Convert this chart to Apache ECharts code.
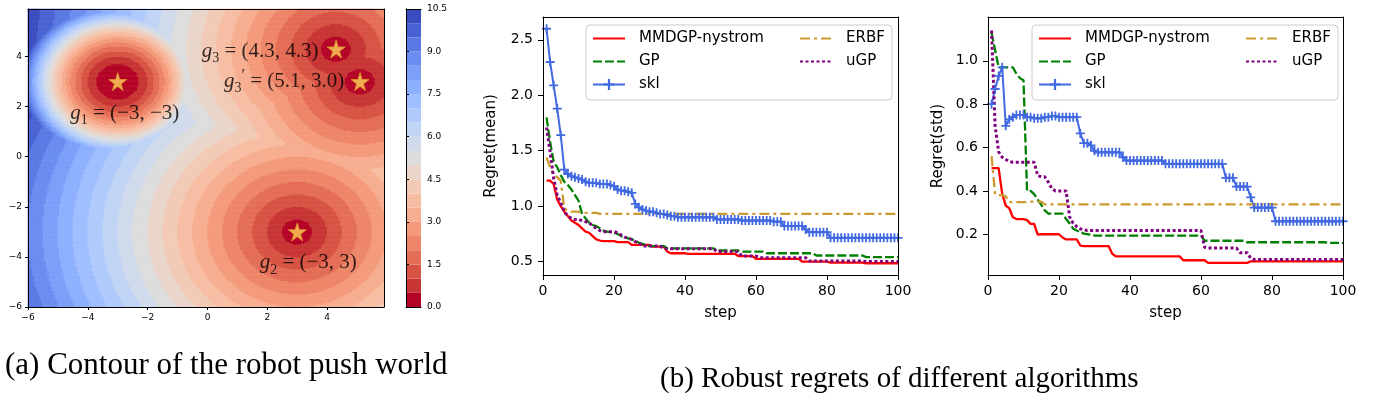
<!DOCTYPE html>
<html>
<head>
<meta charset="utf-8">
<script src="https://cdn.jsdelivr.net/npm/echarts@6/dist/echarts.min.js"></script>
<style>
html, body { margin: 0; padding: 0; background: #fff; }
#chart { width: 1376px; height: 393px; }
</style>
</head>
<body>
<div id="chart"></div>
<script>
// ---- (a) robot push world: goals and how the regret grows around each one
var goalX = [-3, 3, 4.3, 5.1];
var goalY = [3, -3, 4.3, 3.0];
var goalPow = [2, 1, 1, 1];
var goalText = [
  '{g|g}{s|1}{t| = (−3, −3)}',
  '{g|g}{s|2}{t| = (−3, 3)}',
  '{g|g}{s|3}{t| = (4.3, 4.3)}',
  '{g|g}{s|3}{p|′}{t| = (5.1, 3.0)}'
];
var levels = [0, 0.5, 1, 1.5, 2, 2.5, 3, 3.5, 4, 4.5, 5, 5.5, 6, 6.5, 7, 7.5, 8, 8.5, 9, 9.5, 10, 10.5];
var contourTicks = [-6, -4, -2, 0, 2, 4];
var colorbarTicks = [0, 1.5, 3, 4.5, 6, 7.5, 9, 10.5];

// ---- (b) robust regrets
var names = ['MMDGP-nystrom', 'GP', 'skl', 'ERBF', 'uGP'];
var stepTicks = [0, 20, 40, 60, 80, 100];
var meanTicks = [0.5, 1.0, 1.5, 2.0, 2.5];
var stdTicks = [0.2, 0.4, 0.6, 0.8, 1.0];

var mmdgpMean = [
  1.23, 1.23, 1.20, 1.06, 1.00, 0.95, 0.91, 0.87, 0.85, 0.83,
  0.80, 0.77, 0.76, 0.73, 0.70, 0.69, 0.685, 0.685, 0.685, 0.685,
  0.675, 0.675, 0.675, 0.675, 0.65, 0.65, 0.65, 0.65, 0.65, 0.65,
  0.635, 0.635, 0.635, 0.635, 0.59, 0.575, 0.575, 0.575, 0.575, 0.575,
  0.57, 0.57, 0.57, 0.57, 0.57, 0.57, 0.57, 0.57, 0.57, 0.57,
  0.57, 0.57, 0.57, 0.57, 0.55, 0.55, 0.55, 0.55, 0.55, 0.525,
  0.525, 0.525, 0.525, 0.525, 0.525, 0.525, 0.525, 0.525, 0.525, 0.525,
  0.525, 0.525, 0.50, 0.50, 0.50, 0.50, 0.50, 0.50, 0.50, 0.50,
  0.49, 0.49, 0.49, 0.49, 0.49, 0.49, 0.49, 0.49, 0.49, 0.49,
  0.485, 0.485, 0.485, 0.485, 0.485, 0.485, 0.485, 0.485, 0.485, 0.485
];
var gpMean = [
  1.80, 1.58, 1.40, 1.35, 1.28, 1.22, 1.19, 1.15, 1.10, 1.05,
  0.93, 0.89, 0.85, 0.83, 0.82, 0.80, 0.78, 0.77, 0.765, 0.76,
  0.75, 0.73, 0.72, 0.71, 0.70, 0.69, 0.67, 0.66, 0.65, 0.64,
  0.64, 0.64, 0.64, 0.64, 0.62, 0.62, 0.62, 0.62, 0.62, 0.62,
  0.62, 0.62, 0.62, 0.62, 0.62, 0.62, 0.62, 0.62, 0.60, 0.60,
  0.60, 0.60, 0.60, 0.60, 0.60, 0.59, 0.59, 0.59, 0.59, 0.59,
  0.59, 0.59, 0.575, 0.575, 0.575, 0.575, 0.575, 0.575, 0.575, 0.575,
  0.575, 0.575, 0.575, 0.575, 0.575, 0.575, 0.555, 0.555, 0.555, 0.555,
  0.555, 0.555, 0.555, 0.555, 0.555, 0.555, 0.555, 0.555, 0.555, 0.555,
  0.54, 0.54, 0.54, 0.54, 0.54, 0.54, 0.54, 0.54, 0.54, 0.54
];
var sklMean = [
  2.60, 2.30, 2.09, 1.88, 1.64, 1.33, 1.29, 1.27, 1.26, 1.25,
  1.24, 1.22, 1.21, 1.21, 1.21, 1.20, 1.20, 1.20, 1.19, 1.18,
  1.15, 1.14, 1.14, 1.13, 1.12, 1.02, 0.99, 0.97, 0.96, 0.95,
  0.95, 0.94, 0.93, 0.93, 0.92, 0.91, 0.91, 0.90, 0.90, 0.90,
  0.90, 0.90, 0.90, 0.90, 0.90, 0.90, 0.90, 0.90, 0.88, 0.88,
  0.88, 0.88, 0.88, 0.88, 0.88, 0.87, 0.87, 0.87, 0.87, 0.87,
  0.87, 0.87, 0.87, 0.87, 0.86, 0.86, 0.86, 0.82, 0.82, 0.82,
  0.82, 0.82, 0.82, 0.79, 0.765, 0.765, 0.765, 0.765, 0.765, 0.765,
  0.714, 0.714, 0.714, 0.714, 0.714, 0.714, 0.714, 0.714, 0.714, 0.714,
  0.714, 0.714, 0.714, 0.714, 0.714, 0.714, 0.714, 0.714, 0.714, 0.714
];
var erbfMean = [
  1.44, 1.35, 1.29, 1.26, 1.23, 0.98, 0.96, 0.95, 0.95, 0.95,
  0.94, 0.94, 0.94, 0.94, 0.94, 0.93, 0.93, 0.93, 0.93, 0.93,
  0.93, 0.93, 0.93, 0.93, 0.93, 0.93, 0.93, 0.93, 0.93, 0.93,
  0.93, 0.93, 0.93, 0.93, 0.93, 0.93, 0.93, 0.93, 0.93, 0.93,
  0.93, 0.93, 0.93, 0.93, 0.93, 0.93, 0.93, 0.93, 0.93, 0.93,
  0.93, 0.93, 0.93, 0.93, 0.93, 0.93, 0.93, 0.93, 0.93, 0.93,
  0.93, 0.93, 0.93, 0.93, 0.93, 0.93, 0.93, 0.93, 0.93, 0.93,
  0.93, 0.93, 0.93, 0.93, 0.93, 0.93, 0.93, 0.93, 0.93, 0.93,
  0.93, 0.93, 0.93, 0.93, 0.93, 0.93, 0.93, 0.93, 0.93, 0.93,
  0.93, 0.93, 0.93, 0.93, 0.93, 0.93, 0.93, 0.93, 0.93, 0.93
];
var ugpMean = [
  1.71, 1.49, 1.25, 1.10, 1.03, 0.95, 0.91, 0.89, 0.88, 0.88,
  0.87, 0.86, 0.85, 0.82, 0.80, 0.78, 0.77, 0.77, 0.77, 0.77,
  0.76, 0.74, 0.72, 0.71, 0.70, 0.68, 0.67, 0.64, 0.64, 0.64,
  0.64, 0.64, 0.64, 0.615, 0.615, 0.615, 0.615, 0.615, 0.615, 0.615,
  0.615, 0.615, 0.615, 0.615, 0.615, 0.615, 0.615, 0.615, 0.59, 0.59,
  0.59, 0.59, 0.59, 0.59, 0.59, 0.55, 0.55, 0.55, 0.55, 0.55,
  0.535, 0.535, 0.535, 0.535, 0.535, 0.535, 0.535, 0.535, 0.535, 0.535,
  0.535, 0.535, 0.535, 0.535, 0.505, 0.505, 0.505, 0.505, 0.505, 0.505,
  0.505, 0.505, 0.505, 0.505, 0.505, 0.505, 0.505, 0.505, 0.505, 0.505,
  0.50, 0.50, 0.50, 0.50, 0.50, 0.50, 0.50, 0.50, 0.50, 0.50
];

var mmdgpStd = [
  0.505, 0.505, 0.505, 0.386, 0.332, 0.32, 0.278, 0.27, 0.27, 0.27,
  0.265, 0.248, 0.248, 0.198, 0.20, 0.20, 0.20, 0.20, 0.20, 0.20,
  0.185, 0.176, 0.176, 0.176, 0.176, 0.148, 0.145, 0.145, 0.145, 0.145,
  0.145, 0.145, 0.145, 0.145, 0.11, 0.098, 0.098, 0.098, 0.098, 0.098,
  0.098, 0.098, 0.098, 0.098, 0.098, 0.098, 0.098, 0.098, 0.098, 0.098,
  0.098, 0.098, 0.098, 0.098, 0.08, 0.08, 0.08, 0.08, 0.08, 0.08,
  0.08, 0.068, 0.068, 0.068, 0.068, 0.068, 0.068, 0.068, 0.068, 0.068,
  0.068, 0.068, 0.068, 0.075, 0.075, 0.075, 0.075, 0.075, 0.075, 0.075,
  0.075, 0.075, 0.075, 0.075, 0.075, 0.075, 0.075, 0.075, 0.075, 0.075,
  0.075, 0.075, 0.075, 0.075, 0.075, 0.075, 0.075, 0.075, 0.075, 0.075
];
var gpStd = [
  1.13, 1.05, 0.97, 0.97, 0.97, 0.97, 0.97, 0.94, 0.92, 0.91,
  0.40, 0.40, 0.385, 0.36, 0.335, 0.31, 0.295, 0.295, 0.295, 0.295,
  0.295, 0.27, 0.25, 0.225, 0.217, 0.21, 0.203, 0.20, 0.198, 0.194,
  0.194, 0.194, 0.194, 0.194, 0.194, 0.194, 0.194, 0.194, 0.194, 0.194,
  0.194, 0.194, 0.194, 0.194, 0.194, 0.194, 0.194, 0.194, 0.194, 0.194,
  0.194, 0.194, 0.194, 0.194, 0.194, 0.194, 0.194, 0.194, 0.194, 0.194,
  0.17, 0.17, 0.17, 0.17, 0.17, 0.17, 0.17, 0.17, 0.17, 0.17,
  0.17, 0.17, 0.163, 0.163, 0.163, 0.163, 0.163, 0.163, 0.163, 0.163,
  0.163, 0.163, 0.163, 0.163, 0.163, 0.163, 0.163, 0.163, 0.163, 0.163,
  0.163, 0.163, 0.163, 0.163, 0.163, 0.16, 0.16, 0.16, 0.16, 0.16
];
var sklStd = [
  0.80, 0.87, 0.93, 0.97, 0.70, 0.73, 0.74, 0.75, 0.75, 0.75,
  0.74, 0.74, 0.735, 0.735, 0.735, 0.74, 0.74, 0.745, 0.745, 0.74,
  0.74, 0.74, 0.74, 0.74, 0.74, 0.665, 0.62, 0.62, 0.61, 0.585,
  0.578, 0.578, 0.578, 0.578, 0.578, 0.578, 0.578, 0.555, 0.54, 0.54,
  0.54, 0.54, 0.54, 0.54, 0.54, 0.54, 0.54, 0.54, 0.54, 0.525,
  0.525, 0.525, 0.525, 0.525, 0.525, 0.525, 0.525, 0.525, 0.525, 0.525,
  0.525, 0.525, 0.525, 0.525, 0.525, 0.525, 0.46, 0.46, 0.46, 0.42,
  0.42, 0.42, 0.42, 0.37, 0.323, 0.323, 0.323, 0.323, 0.323, 0.323,
  0.26, 0.26, 0.26, 0.26, 0.26, 0.26, 0.26, 0.26, 0.26, 0.26,
  0.26, 0.26, 0.26, 0.26, 0.26, 0.26, 0.26, 0.26, 0.26, 0.26
];
var erbfStd = [
  0.56, 0.385, 0.38, 0.38, 0.375, 0.348, 0.348, 0.348, 0.348, 0.348,
  0.348, 0.35, 0.35, 0.35, 0.35, 0.338, 0.338, 0.338, 0.338, 0.338,
  0.338, 0.338, 0.338, 0.338, 0.338, 0.338, 0.338, 0.338, 0.338, 0.338,
  0.338, 0.338, 0.338, 0.338, 0.338, 0.338, 0.338, 0.338, 0.338, 0.338,
  0.338, 0.338, 0.338, 0.338, 0.338, 0.338, 0.338, 0.338, 0.338, 0.338,
  0.338, 0.338, 0.338, 0.338, 0.338, 0.338, 0.338, 0.338, 0.338, 0.338,
  0.338, 0.338, 0.338, 0.338, 0.338, 0.338, 0.338, 0.338, 0.338, 0.338,
  0.338, 0.338, 0.338, 0.338, 0.338, 0.338, 0.338, 0.338, 0.338, 0.338,
  0.338, 0.338, 0.338, 0.338, 0.338, 0.338, 0.338, 0.338, 0.338, 0.338,
  0.338, 0.338, 0.338, 0.338, 0.338, 0.338, 0.338, 0.338, 0.338, 0.338
];
var ugpStd = [
  1.14, 0.70, 0.58, 0.555, 0.545, 0.535, 0.532, 0.532, 0.532, 0.532,
  0.532, 0.532, 0.532, 0.47, 0.465, 0.465, 0.44, 0.41, 0.40, 0.40,
  0.40, 0.40, 0.28, 0.25, 0.235, 0.225, 0.22, 0.217, 0.217, 0.217,
  0.217, 0.217, 0.217, 0.217, 0.217, 0.217, 0.217, 0.217, 0.217, 0.217,
  0.217, 0.217, 0.217, 0.217, 0.217, 0.217, 0.217, 0.217, 0.217, 0.217,
  0.217, 0.217, 0.217, 0.217, 0.217, 0.217, 0.217, 0.217, 0.217, 0.217,
  0.14, 0.136, 0.136, 0.136, 0.136, 0.136, 0.136, 0.136, 0.136, 0.136,
  0.115, 0.115, 0.115, 0.09, 0.083, 0.083, 0.083, 0.083, 0.083, 0.083,
  0.083, 0.083, 0.083, 0.083, 0.083, 0.083, 0.083, 0.083, 0.083, 0.083,
  0.083, 0.083, 0.083, 0.083, 0.083, 0.083, 0.083, 0.083, 0.083, 0.083
];

var meanData = [mmdgpMean, gpMean, sklMean, erbfMean, ugpMean];
var stdData = [mmdgpStd, gpStd, sklStd, erbfStd, ugpStd];

// ---- styling
var FONT = 'DejaVu Sans';
var SERIF = 'Liberation Serif';
var AX = '#000';
var PLUS = 'path://M4,0h2v4h4v2h-4v4h-2v-4h-4v-2h4z';
var STAR = 'path://M50,0L61,35L98,35L68,57L79,91L50,70L21,91L32,57L2,35L39,35Z';
var lineStyles = [
  {color: '#ff0000', type: 'solid', width: 2.3},
  {color: '#008000', type: [9, 3], width: 2.3},
  {color: '#4169e1', type: 'solid', width: 2},
  {color: '#cc9a2e', type: [10, 4, 3, 4], width: 2.3},
  {color: '#800080', type: [3, 2.5], width: 3}
];
var labelOffsets = [[7, 32], [11, 31], [-76, 2], [-76, 0]];

// coolwarm colormap (Moreland table)
var CW = [
  [59,76,192],[68,90,204],[77,104,215],[87,117,225],[98,130,234],[108,142,241],
  [119,154,247],[130,165,251],[141,176,254],[152,185,255],[163,194,255],[174,201,253],
  [184,208,249],[194,213,244],[204,217,238],[213,219,230],[221,221,221],[229,216,209],
  [236,211,197],[241,204,184],[245,196,173],[247,187,160],[247,177,148],[247,166,135],
  [244,154,123],[241,141,111],[236,127,99],[229,112,88],[222,96,77],[213,80,66],
  [203,62,56],[192,40,47],[180,4,38]
];
function coolwarm(t) {
  var p = t * 32;
  var i = Math.min(31, Math.floor(p));
  var f = p - i;
  var a = CW[i], b = CW[i + 1];
  return 'rgb(' + Math.round(a[0] + (b[0] - a[0]) * f) + ',' +
    Math.round(a[1] + (b[1] - a[1]) * f) + ',' + Math.round(a[2] + (b[2] - a[2]) * f) + ')';
}
var nBands = levels.length - 1;
var bandColors = [];
for (var i = 0; i < nBands; i++) {
  bandColors.push(coolwarm(1 - i / (nBands - 1)));
}

// field of the push world on a fine grid
var N = 238, lo = -6, hi = 5.9;
var cells = [];
for (var i = 0; i < N; i++) {
  cells.push((lo + (i + 0.5) * (hi - lo) / N).toFixed(3));
}
var field = [];
for (var i = 0; i < N; i++) {
  for (var j = 0; j < N; j++) {
    var x = +cells[i], y = +cells[j];
    var best = Infinity;
    for (var g = 0; g < goalX.length; g++) {
      var d = Math.sqrt((x - goalX[g]) * (x - goalX[g]) + (y - goalY[g]) * (y - goalY[g]));
      best = Math.min(best, Math.pow(d, goalPow[g]));
    }
    field.push([i, j, best]);
  }
}

var steps = [];
for (var s = 1; s <= 100; s++) steps.push(s);
function pairs(vals) {
  return vals.map(function (v, k) { return [steps[k], v]; });
}
function minus(v) {
  return v < 0 ? '−' + Math.abs(v) : String(v);
}

// ---- axes
function frameAxis(grid, pos) {
  return {
    type: 'value', gridIndex: grid, position: pos, min: 0, max: 1, z: 10,
    axisLine: {show: true, onZero: false, lineStyle: {color: AX, width: 1}},
    axisTick: {show: false}, axisLabel: {show: false}, splitLine: {show: false}
  };
}
function hiddenCat(grid, data) {
  return {type: 'category', gridIndex: grid, data: data, show: false};
}
function contourAxis(pos) {
  return {
    type: 'value', gridIndex: 0, position: pos, min: lo, max: hi, z: 10,
    axisLine: {onZero: false, lineStyle: {color: AX, width: 1}},
    axisTick: {length: 3, customValues: contourTicks, lineStyle: {color: AX}},
    axisLabel: {customValues: contourTicks, formatter: minus, fontFamily: FONT, fontSize: 9, color: '#000', margin: 6},
    splitLine: {show: false}
  };
}
function stepAxis(grid) {
  return {
    type: 'value', gridIndex: grid, min: 0, max: 100, interval: 20, z: 10,
    name: 'step', nameLocation: 'middle', nameGap: 31,
    nameTextStyle: {fontFamily: FONT, fontSize: 15, color: '#000'},
    axisLine: {onZero: false, lineStyle: {color: AX, width: 1}},
    axisTick: {length: 5, lineStyle: {color: AX}},
    axisLabel: {fontFamily: FONT, fontSize: 14, color: '#000', margin: 9},
    splitLine: {show: false}
  };
}
function regretAxis(grid, name, min, max, ticks, gap) {
  return {
    type: 'value', gridIndex: grid, min: min, max: max, z: 10,
    name: name, nameLocation: 'middle', nameGap: gap,
    nameTextStyle: {fontFamily: FONT, fontSize: 15, color: '#000'},
    axisLine: {onZero: false, lineStyle: {color: AX, width: 1}},
    axisTick: {length: 5, customValues: ticks, lineStyle: {color: AX}},
    axisLabel: {customValues: ticks, formatter: function (v) { return v.toFixed(1); },
      fontFamily: FONT, fontSize: 14, color: '#000', margin: 10},
    splitLine: {show: false}
  };
}

var xAxes = [
  hiddenCat(0, cells),             // 0 heatmap
  contourAxis('bottom'),           // 1
  frameAxis(0, 'top'),             // 2
  {type: 'category', gridIndex: 1, data: ['cb'], z: 10, axisLine: {lineStyle: {color: AX}},
    axisTick: {show: false}, axisLabel: {show: false}},  // 3 colorbar
  frameAxis(1, 'top'),             // 4
  stepAxis(2),                     // 5 mean
  frameAxis(2, 'top'),             // 6
  stepAxis(3),                     // 7 std
  frameAxis(3, 'top')              // 8
];
var yAxes = [
  hiddenCat(0, cells),
  contourAxis('left'),
  frameAxis(0, 'right'),
  {type: 'value', gridIndex: 1, position: 'right', min: 0, max: 10.5, z: 10,
    axisLine: {show: true, lineStyle: {color: AX}},
    axisTick: {length: 3, customValues: colorbarTicks, lineStyle: {color: AX}},
    axisLabel: {customValues: colorbarTicks, formatter: function (v) { return v.toFixed(1); },
      fontFamily: FONT, fontSize: 9, color: '#000', margin: 6},
    splitLine: {show: false}},
  frameAxis(1, 'left'),
  regretAxis(2, 'Regret(mean)', 0.379, 2.706, meanTicks, 44),
  frameAxis(2, 'right'),
  regretAxis(3, 'Regret(std)', 0.012, 1.202, stdTicks, 42),
  frameAxis(3, 'right')
];

// ---- series
var series = [];
series.push({
  type: 'heatmap', xAxisIndex: 0, yAxisIndex: 0, data: field,
  progressive: 0, silent: true, emphasis: {disabled: true}
});
series.push({
  type: 'scatter', xAxisIndex: 1, yAxisIndex: 1, z: 5, silent: true,
  symbol: STAR, symbolSize: 18,
  itemStyle: {color: '#ffd65c', borderColor: '#e0962c', borderWidth: 1},
  data: goalX.map(function (gx, k) {
    return {
      value: [gx, goalY[k]],
      label: {offset: labelOffsets[k], formatter: goalText[k]}
    };
  }),
  label: {
    show: true, position: 'inside',
    rich: {
      g: {fontFamily: SERIF, fontStyle: 'italic', fontSize: 21, color: '#000', lineHeight: 28},
      s: {fontFamily: SERIF, fontSize: 14, color: '#000', lineHeight: 14, verticalAlign: 'bottom'},
      p: {fontFamily: SERIF, fontSize: 16, color: '#000', lineHeight: 14, verticalAlign: 'top'},
      t: {fontFamily: SERIF, fontSize: 21, color: '#000', lineHeight: 28}
    }
  }
});
for (var b = 0; b < nBands; b++) {
  series.push({
    type: 'bar', xAxisIndex: 3, yAxisIndex: 3, stack: 'cb', barWidth: '100%', silent: true,
    itemStyle: {color: bandColors[b]},
    data: [levels[b + 1] - levels[b]]
  });
}
function addLines(dataSet, xi, yi) {
  for (var k = 0; k < names.length; k++) {
    var st = lineStyles[k];
    series.push({
      name: names[k], type: 'line', xAxisIndex: xi, yAxisIndex: yi,
      data: pairs(dataSet[k]),
      symbol: names[k] === 'skl' ? PLUS : 'none', symbolSize: 9, showSymbol: names[k] === 'skl',
      itemStyle: {color: st.color},
      lineStyle: {color: st.color, type: st.type, width: st.width, cap: 'butt'},
      emphasis: {disabled: true}, silent: true
    });
  }
}
addLines(meanData, 5, 5);
addLines(stdData, 7, 7);

// legend: line-only handles except skl, two columns like the matplotlib one
var noMark = {color: 'rgba(0,0,0,0)', borderColor: 'rgba(0,0,0,0)', borderWidth: 0, opacity: 0};
function makeLegend(left) {
  return {
    left: left, top: 25, width: 300, orient: 'horizontal',
    itemGap: 8, itemWidth: 32, itemHeight: 14, selectedMode: false,
    padding: [6, 6, 8, 6],
    backgroundColor: 'rgba(255,255,255,0.8)', borderColor: '#cccccc', borderWidth: 1, borderRadius: 4,
    textStyle: {fontFamily: FONT, fontSize: 15, color: '#000', padding: [0, 0, 0, 9], width: 152, lineHeight: 15},
    data: [
      {name: names[0], itemStyle: noMark},
      {name: names[3], itemStyle: noMark, textStyle: {width: 40}},
      {name: names[1], itemStyle: noMark},
      {name: names[4], itemStyle: noMark, textStyle: {width: 40}},
      {name: names[2]}
    ]
  };
}

var pieces = [];
for (var b = 0; b < nBands; b++) {
  pieces.push({gte: levels[b], lt: levels[b + 1] + (b === nBands - 1 ? 1 : 0), color: bandColors[b]});
}

var option = {
  animation: false,
  backgroundColor: '#fff',
  grid: [
    {left: 28, top: 9, width: 356, height: 298},
    {left: 406, top: 9, width: 15, height: 298},
    {left: 543, top: 17, width: 355, height: 258},
    {left: 988, top: 17, width: 355, height: 258}
  ],
  xAxis: xAxes,
  yAxis: yAxes,
  visualMap: {type: 'piecewise', show: false, seriesIndex: 0, dimension: 2, pieces: pieces},
  legend: [makeLegend(586), makeLegend(1032)],
  graphic: [
    {type: 'text', x: 5, y: 366, silent: true,
      style: {text: '(a) Contour of the robot push world', font: '31px "Liberation Serif"', fill: '#000',
        align: 'left', verticalAlign: 'middle'}},
    {type: 'text', x: 660, y: 379, silent: true,
      style: {text: '(b) Robust regrets of different algorithms', font: '29px "Liberation Serif"', fill: '#000',
        align: 'left', verticalAlign: 'middle'}}
  ],
  series: series
};

var chart = echarts.init(document.getElementById('chart'));
chart.setOption(option);
</script>
</body>
</html>
